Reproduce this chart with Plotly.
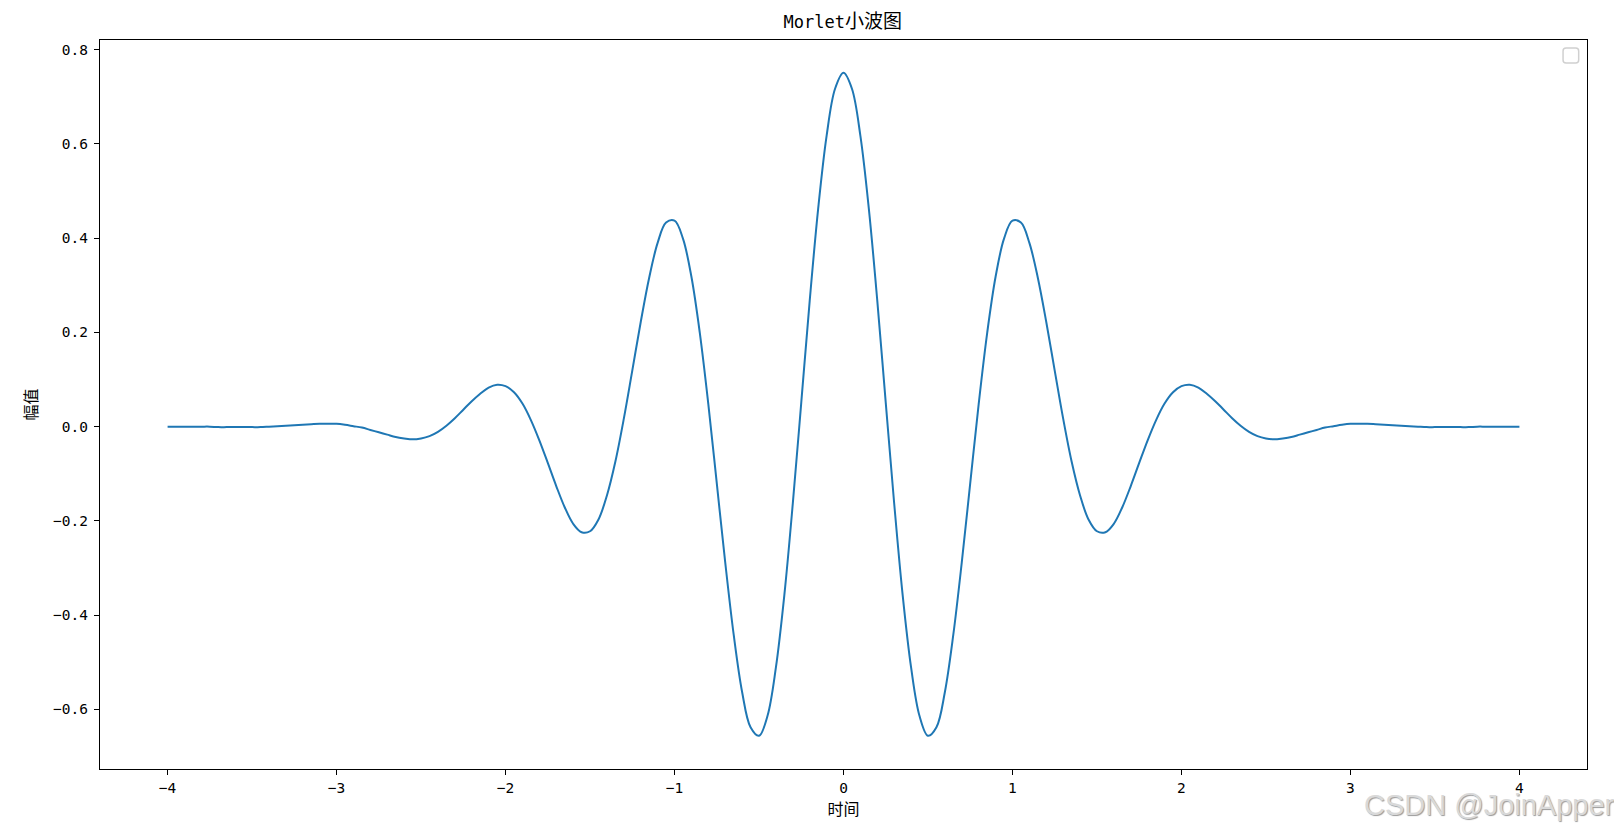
import plotly.graph_objects as go

time_s = [
    -4.00, -3.95, -3.90, -3.85, -3.80, -3.75, -3.70, -3.65, -3.60, -3.55,
    -3.50, -3.45, -3.40, -3.35, -3.30, -3.25, -3.20, -3.15, -3.10, -3.05,
    -3.00, -2.95, -2.90, -2.85, -2.80, -2.75, -2.70, -2.65, -2.60, -2.55,
    -2.50, -2.45, -2.40, -2.35, -2.30, -2.25, -2.20, -2.15, -2.10, -2.05,
    -2.00, -1.95, -1.90, -1.85, -1.80, -1.75, -1.70, -1.65, -1.60, -1.55,
    -1.50, -1.45, -1.40, -1.35, -1.30, -1.25, -1.20, -1.15, -1.10, -1.05,
    -1.00, -0.95, -0.90, -0.85, -0.80, -0.75, -0.70, -0.65, -0.60, -0.55,
    -0.50, -0.45, -0.40, -0.35, -0.30, -0.25, -0.20, -0.15, -0.10, -0.05,
    0.00,
    0.05, 0.10, 0.15, 0.20, 0.25, 0.30, 0.35, 0.40, 0.45, 0.50,
    0.55, 0.60, 0.65, 0.70, 0.75, 0.80, 0.85, 0.90, 0.95, 1.00,
    1.05, 1.10, 1.15, 1.20, 1.25, 1.30, 1.35, 1.40, 1.45, 1.50,
    1.55, 1.60, 1.65, 1.70, 1.75, 1.80, 1.85, 1.90, 1.95, 2.00,
    2.05, 2.10, 2.15, 2.20, 2.25, 2.30, 2.35, 2.40, 2.45, 2.50,
    2.55, 2.60, 2.65, 2.70, 2.75, 2.80, 2.85, 2.90, 2.95, 3.00,
    3.05, 3.10, 3.15, 3.20, 3.25, 3.30, 3.35, 3.40, 3.45, 3.50,
    3.55, 3.60, 3.65, 3.70, 3.75, 3.80, 3.85, 3.90, 3.95, 4.00,
]

amplitude = [
    0.000, 0.000, 0.000, 0.000, 0.000, 0.000, -0.001, -0.001, -0.001, -0.001,
    -0.001, -0.001, 0.000, 0.001, 0.002, 0.003, 0.004, 0.005, 0.006, 0.006,
    0.006, 0.004, 0.001, -0.002, -0.007, -0.012, -0.017, -0.022, -0.025, -0.027,
    -0.025, -0.020, -0.011, 0.002, 0.018, 0.036, 0.054, 0.070, 0.083, 0.089,
    0.086, 0.073, 0.049, 0.014, -0.029, -0.077, -0.126, -0.171, -0.206, -0.224,
    -0.222, -0.197, -0.146, -0.074, 0.017, 0.119, 0.222, 0.316, 0.390, 0.433,
    0.437, 0.399, 0.318, 0.198, 0.048, -0.120, -0.288, -0.441, -0.563, -0.638,
    -0.656, -0.614, -0.511, -0.357, -0.163, 0.051, 0.267, 0.462, 0.617, 0.717,
    0.751,
    0.717, 0.617, 0.462, 0.267, 0.051, -0.163, -0.357, -0.511, -0.614, -0.656,
    -0.638, -0.563, -0.441, -0.288, -0.120, 0.048, 0.198, 0.318, 0.399, 0.437,
    0.433, 0.390, 0.316, 0.222, 0.119, 0.017, -0.074, -0.146, -0.197, -0.222,
    -0.224, -0.206, -0.171, -0.126, -0.077, -0.029, 0.014, 0.049, 0.073, 0.086,
    0.089, 0.083, 0.070, 0.054, 0.036, 0.018, 0.002, -0.011, -0.020, -0.025,
    -0.027, -0.025, -0.022, -0.017, -0.012, -0.007, -0.002, 0.001, 0.004, 0.006,
    0.006, 0.006, 0.005, 0.004, 0.003, 0.002, 0.001, 0.000, -0.001, -0.001,
    -0.001, -0.001, -0.001, -0.001, 0.000, 0.000, 0.000, 0.000, 0.000, 0.000,
]

x_ticks = [-4, -3, -2, -1, 0, 1, 2, 3, 4]
y_ticks = [-0.6, -0.4, -0.2, 0.0, 0.2, 0.4, 0.6, 0.8]

title_latin = "Morlet"
title_cjk = "小波图"
x_label = "时间"
y_label = "幅值"
watermark = "CSDN @JoinApper"

FONT = "DejaVu Sans Mono, Noto Sans CJK SC, sans-serif"
CJK = "Noto Sans CJK SC"

fig = go.Figure()
fig.add_trace(go.Scatter(
    x=time_s, y=amplitude, mode="lines",
    line=dict(color="#1f77b4", width=2, shape="spline", smoothing=1.0),
    showlegend=False, hoverinfo="skip",
))

axis_common = dict(
    showgrid=False, zeroline=False, showline=True, linecolor="black", linewidth=1.2,
    mirror=True, ticks="outside", ticklen=5, tickwidth=1.2, tickcolor="black",
    tickfont=dict(family=FONT, size=14.5, color="black"), automargin=False,
)

fig.update_xaxes(
    range=[-4.4, 4.4], tickvals=x_ticks,
    ticktext=[("\u2212" + str(-v)) if v < 0 else str(v) for v in x_ticks],
    title=dict(text=x_label, font=dict(family=CJK, size=16, color="black"), standoff=9),
    **axis_common,
)
fig.update_yaxes(
    range=[-0.7265, 0.8205], tickvals=y_ticks, tickformat=".1f",
    ticklabelstandoff=3,
    title=dict(text=y_label, font=dict(family=CJK, size=16, color="black"), standoff=11),
    **axis_common,
)

# legend frame (empty legend) with rounded corners, in paper coords
lx0, lx1, ly0, ly1 = 0.9839, 0.9944, 0.9684, 0.9890
rx, ry = 0.0020, 0.0041
legend_path = (
    f"M {lx0+rx},{ly1} L {lx1-rx},{ly1} Q {lx1},{ly1} {lx1},{ly1-ry} "
    f"L {lx1},{ly0+ry} Q {lx1},{ly0} {lx1-rx},{ly0} L {lx0+rx},{ly0} "
    f"Q {lx0},{ly0} {lx0},{ly0+ry} L {lx0},{ly1-ry} Q {lx0},{ly1} {lx0+rx},{ly1} Z"
)

fig.update_layout(
    width=1614, height=825,
    margin=dict(l=92, r=35, t=32, b=64, autoexpand=False),
    paper_bgcolor="white", plot_bgcolor="white",
    title=dict(text=f"{title_latin}<span style='font-size:19px'>{title_cjk}</span>",
               x=0.5172, xanchor="center", y=0.9824, yanchor="middle",
               font=dict(family=FONT, size=17, color="black")),
    shapes=[dict(type="path", xref="paper", yref="paper", path=legend_path,
                 line=dict(color="#d0d0d0", width=1.5), fillcolor="white")],
    annotations=[dict(text=watermark, xref="paper", yref="paper", x=1.0205, y=-0.049,
                      xanchor="right", yanchor="middle", showarrow=False,
                      font=dict(family="Liberation Sans, Arial", size=29, color="#d9d9d9",
                                shadow="1px 1px 1px #9a9a9a"))],
)

fig.write_html("out.html")
